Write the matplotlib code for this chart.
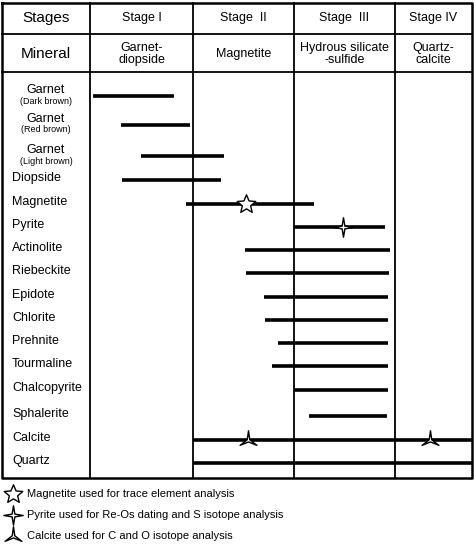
import numpy as np
import matplotlib
matplotlib.use('Agg')
import matplotlib.pyplot as plt
from matplotlib.path import Path

minerals = ['Garnet', 'Garnet', 'Garnet', 'Diopside', 'Magnetite', 'Pyrite', 'Actinolite',
            'Riebeckite', 'Epidote', 'Chlorite', 'Prehnite', 'Tourmaline', 'Chalcopyrite',
            'Sphalerite', 'Calcite', 'Quartz']
subnames = ['(Dark brown)', '(Red brown)', '(Light brown)'] + [''] * 13
row_y = [96, 125, 156, 180, 204, 227, 250, 273, 297, 320, 343, 366, 390, 416, 440, 463]
bar_start = [93, 121, 141, 122, 186, 294, 245, 246, 264, 265, 278, 272, 294, 309, 193, 193]
bar_end = [174, 190, 224, 221, 314, 385, 390, 389, 388, 388, 388, 388, 388, 387, 472, 472]
stages = ['Stage I', 'Stage  II', 'Stage  III', 'Stage IV']
stage_minerals = ['Garnet-\ndiopside', 'Magnetite', 'Hydrous silicate\n-sulfide', 'Quartz-\ncalcite']
col_x = [2, 90, 193, 294, 395, 472]
# sample markers: (x, row index, kind)
samples = [(246, 4, 'star'), (343, 5, 'four'), (248, 14, 'three'), (430, 14, 'three')]
legend_txt = ['Magnetite used for trace element analysis',
              'Pyrite used for Re-Os dating and S isotope analysis',
              'Calcite used for C and O isotope analysis']


def star_path(n, r_out, r_in, rot=90):
    ang = np.deg2rad(rot) + np.arange(2 * n) * np.pi / n
    r = np.where(np.arange(2 * n) % 2 == 0, r_out, r_in)
    v = np.column_stack([r * np.cos(ang), r * np.sin(ang)])
    v = np.vstack([v, v[:1]])
    return Path(v, closed=True)


markers = {'star': star_path(5, 1, 0.45), 'four': star_path(4, 1, 0.2),
           'three': star_path(3, 1, 0.15)}

plt.rcParams['font.family'] = ['Liberation Sans', 'DejaVu Sans']
fig = plt.figure(figsize=(4.74, 5.45), dpi=100)
ax = fig.add_axes([0, 0, 1, 1])
ax.set_xlim(0, 474)
ax.set_ylim(545, 0)
ax.axis('off')

lw = 1.3
top, h1, h2, bot = 3, 34, 72, 478
ax.plot([col_x[0], col_x[-1], col_x[-1], col_x[0], col_x[0]], [top, top, bot, bot, top], color='k', lw=1.8)
for y in (h1, h2):
    ax.plot([col_x[0], col_x[-1]], [y, y], color='k', lw=lw)
for x in col_x[1:-1]:
    ax.plot([x, x], [top, bot], color='k', lw=lw)

ax.text(46, 18, 'Stages', ha='center', va='center', fontsize=11)
ax.text(46, 54, 'Mineral', ha='center', va='center', fontsize=11)
for i, (s, m) in enumerate(zip(stages, stage_minerals)):
    cx = (col_x[i + 1] + col_x[i + 2]) / 2
    ax.text(cx, 18, s, ha='center', va='center', fontsize=9)
    ax.text(cx, 54, m, ha='center', va='center', fontsize=9, linespacing=1.0)

for name, sub, y, x0, x1 in zip(minerals, subnames, row_y, bar_start, bar_end):
    if sub:
        ax.text(46, y - 6, name, ha='center', va='center', fontsize=9)
        ax.text(46, y + 5, sub, ha='center', va='center', fontsize=6.5)
    else:
        ax.text(12, y - 2, name, ha='left', va='center', fontsize=9)
    ax.plot([x0, x1], [y, y], color='k', lw=2.6, solid_capstyle='butt')

for x, ri, kind in samples:
    ax.plot(x, row_y[ri], marker=markers[kind], ms=14, mfc='white', mec='k', mew=1.0, ls='none')

for i, (kind, t) in enumerate(zip(['star', 'four', 'three'], legend_txt)):
    y = 494 + i * 21
    ax.plot(13, y, marker=markers[kind], ms=14, mfc='white', mec='k', mew=1.0, ls='none')
    ax.text(27, y, t, ha='left', va='center', fontsize=8)

fig.savefig('out.png', dpi=100)
